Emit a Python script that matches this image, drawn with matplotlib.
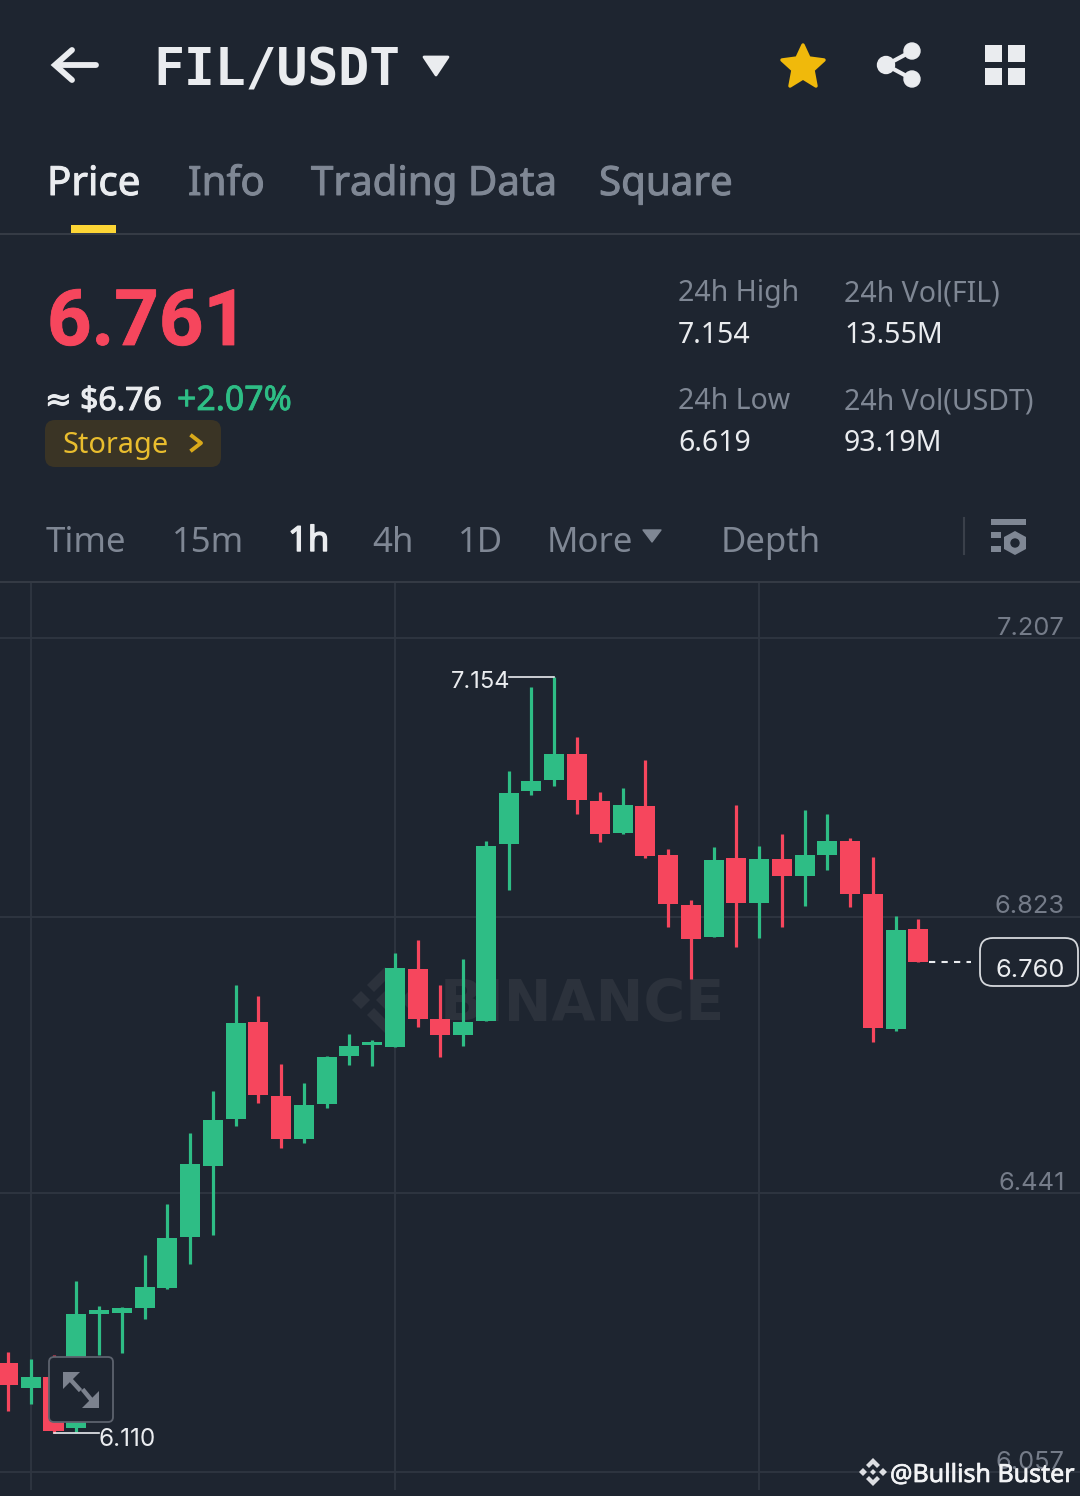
import matplotlib
matplotlib.use('Agg')
import matplotlib.pyplot as plt
import matplotlib.patheffects as pe
from matplotlib.patches import Polygon, Circle, FancyBboxPatch, Rectangle

# candles, oldest first
opens = [6.207, 6.173, 6.188, 6.118, 6.275, 6.276, 6.283, 6.311, 6.381, 6.479, 6.544,
         6.677, 6.575, 6.516, 6.564, 6.631, 6.646, 6.643, 6.751, 6.682, 6.660, 6.679,
         6.923, 6.996, 7.011, 7.047, 6.982, 6.938, 6.975, 6.908, 6.839, 6.795, 6.904,
         6.842, 6.902, 6.879, 6.908, 6.927, 6.854, 6.668, 6.806]
closes = [6.177, 6.188, 6.114, 6.275, 6.280, 6.283, 6.312, 6.380, 6.482, 6.542, 6.676,
          6.577, 6.516, 6.563, 6.629, 6.644, 6.650, 6.752, 6.682, 6.660, 6.677, 6.920,
          6.993, 7.010, 7.047, 6.984, 6.937, 6.977, 6.906, 6.840, 6.792, 6.901, 6.842,
          6.902, 6.879, 6.908, 6.927, 6.854, 6.669, 6.804, 6.760]
highs = [6.222, 6.213, 6.218, 6.320, 6.286, 6.284, 6.356, 6.427, 6.524, 6.582, 6.728,
         6.713, 6.620, 6.593, 6.631, 6.661, 6.653, 6.773, 6.791, 6.728, 6.764, 6.927,
         7.024, 7.139, 7.154, 7.070, 6.995, 7.000, 7.039, 6.916, 6.846, 6.919, 6.977,
         6.920, 6.937, 6.970, 6.964, 6.931, 6.905, 6.824, 6.820]
lows = [6.141, 6.151, 6.110, 6.112, 6.218, 6.221, 6.268, 6.309, 6.344, 6.384, 6.534,
        6.566, 6.504, 6.511, 6.559, 6.618, 6.617, 6.643, 6.671, 6.629, 6.644, 6.679,
        6.860, 6.990, 7.003, 6.964, 6.926, 6.937, 6.904, 6.808, 6.737, 6.795, 6.781,
        6.793, 6.808, 6.837, 6.887, 6.836, 6.650, 6.665, 6.760]
price_ticks = [7.207, 6.823, 6.441, 6.057]
price_labels = ['7.207', '6.823', '6.441', '6.057']
grid_candles = [1, 17, 33]

tabs = [('Price', 47), ('Info', 188), ('Trading Data', 311), ('Square', 599)]
intervals = [('Time', 46), ('15m', 172), ('1h', 288), ('4h', 372), ('1D', 458), ('More', 547), ('Depth', 721)]
stats = [('24h High', '7.154', 678, 301, 343), ('24h Vol(FIL)', '13.55M', 844, 301, 343),
         ('24h Low', '6.619', 678, 409, 451), ('24h Vol(USDT)', '93.19M', 844, 409, 451)]

BG = '#1e2530'
GRID = '#2f3641'
GREEN = '#2ebd85'
RED = '#f6465d'
GREY = '#7f8794'
WHITE = '#eaecef'
FONT = ['Noto Sans', 'DejaVu Sans']
NUM = 'Inter'

fig = plt.figure(figsize=(10.8, 14.96), dpi=100, facecolor=BG)

# page furniture drawn in pixel coordinates
ui = fig.add_axes([0, 0, 1, 1], zorder=0)
ui.set_xlim(0, 1080)
ui.set_ylim(1496, 0)
ui.axis('off')


def label(ax, x, y, s, size, color, weight='normal', ha='left', family=FONT, stroke=0):
    # y is the baseline of the text
    t = ax.text(x, y, s, fontsize=size, color=color, fontweight=weight, ha=ha, va='baseline', family=family)
    if stroke:
        t.set_path_effects([pe.withStroke(linewidth=stroke, foreground=color)])


# header
ui.plot([56, 96], [65, 65], color=WHITE, lw=4.2, solid_capstyle='round')
ui.plot([72, 55, 72], [50, 65, 80], color=WHITE, lw=4.2, solid_capstyle='round', solid_joinstyle='miter')
label(ui, 153, 85, 'FIL/USDT', 37, WHITE, 'bold', family='DejaVu Sans Mono')
ui.add_patch(Polygon([(424, 57), (448, 57), (436, 75)], closed=True, facecolor=WHITE, edgecolor=WHITE, lw=2, joinstyle='round'))

star = [(803, 45), (809, 58), (824, 60), (813, 70), (816, 86), (803, 78), (790, 86), (793, 70), (782, 60), (797, 58)]
ui.add_patch(Polygon(star, closed=True, facecolor='#f0b90b', edgecolor='#f0b90b', lw=2.5, joinstyle='round'))

ui.plot([912, 886, 912], [51, 65, 79], color=WHITE, lw=3)
ui.add_patch(Circle((886, 65), 8.5, color=WHITE))
ui.add_patch(Circle((912, 51), 8, color=WHITE))
ui.add_patch(Circle((912, 79), 8, color=WHITE))

for sx in [985, 1008]:
    for sy in [45, 68]:
        ui.add_patch(Rectangle((sx, sy), 17, 17, color=WHITE, lw=0))

# tabs
for i, (name, x) in enumerate(tabs):
    label(ui, x, 195, name, 29, WHITE if i == 0 else GREY, stroke=0.7)
ui.add_patch(Rectangle((71, 225), 45, 8, color='#fcd535', lw=0))
ui.plot([0, 1080], [234, 234], color='#3a404a', lw=1.2)

# price block
label(ui, 47, 345, '6.761', 56, RED, 'bold', family='Roboto', stroke=0.6)
label(ui, 45, 410, '≈ $6.76', 23, WHITE, stroke=0.8)
label(ui, 177, 410, '+2.07%', 24.4, GREEN, stroke=0.6)
ui.add_patch(FancyBboxPatch((51, 426), 164, 35, boxstyle='round,pad=6,rounding_size=10', facecolor='#3a3425', edgecolor='none'))
label(ui, 63, 453, 'Storage', 20.8, '#e9bd2e')
ui.plot([192, 201, 192], [436, 443, 450], color='#d9a91a', lw=2.8)

for head, val, x, y1, y2 in stats:
    label(ui, x, y1, head, 20.5, GREY)
    label(ui, x, y2, val, 20.5, WHITE)

# interval row
for name, x in intervals:
    if name == '1h':
        label(ui, x, 551, name, 25, WHITE, stroke=1)
    else:
        label(ui, x, 552, name, 25, GREY)
ui.add_patch(Polygon([(643, 530), (661, 530), (652, 542)], closed=True, color=GREY, lw=1, joinstyle='round'))
ui.plot([964, 964], [518, 554], color='#3a404a', lw=1.5)
ui.add_patch(Rectangle((991, 519), 35, 6, color=GREY, lw=0))
ui.add_patch(Rectangle((991, 532), 10, 6, color=GREY, lw=0))
ui.add_patch(Rectangle((991, 546), 10, 6, color=GREY, lw=0))
hexagon = [(1015, 531), (1026, 537), (1026, 549), (1015, 555), (1004, 549), (1004, 537)]
ui.add_patch(Polygon(hexagon, closed=True, color=GREY, lw=0))
ui.add_patch(Circle((1015, 543), 4, color=BG))
ui.plot([0, 1080], [582, 582], color='#343a44', lw=1.5)

# watermark sits behind the candles
WM = '#2c323c'
ui.add_patch(Polygon([(352, 1000), (361, 991), (370, 1000), (361, 1009)], closed=True, color=WM, lw=0))
ui.add_patch(Polygon([(376, 1000), (385, 991), (394, 1000), (385, 1009)], closed=True, color=WM, lw=0))
ui.add_patch(Polygon([(400, 1000), (409, 991), (418, 1000), (409, 1009)], closed=True, color=WM, lw=0))
ui.add_patch(Polygon([(367, 985), (385, 967), (403, 985), (396, 992), (385, 981), (374, 992)], closed=True, color=WM, lw=0))
ui.add_patch(Polygon([(367, 1015), (385, 1033), (403, 1015), (396, 1008), (385, 1019), (374, 1008)], closed=True, color=WM, lw=0))
label(ui, 440, 1021, 'BINANCE', 41, WM, 'bold', family='DejaVu Sans')

# candles, x is the candle index
ax = fig.add_axes([0, (1496 - 1490) / 1496, 1, (1490 - 583) / 1496], zorder=1)
ax.patch.set_visible(False)
ax.set_xlim(-0.351, 47.1)
ax.set_ylim(6.032, 7.283)
for s in ax.spines.values():
    s.set_visible(False)
ax.set_xticks(grid_candles)
ax.set_yticks(price_ticks)
ax.tick_params(length=0, labelbottom=False, labelleft=False)
ax.grid(True, color=GRID, lw=1.3)
ax.set_axisbelow(True)

idx = list(range(len(opens)))
colors = [GREEN if c >= o else RED for o, c in zip(opens, closes)]
ax.vlines(idx, lows, highs, colors=colors, lw=2.3, zorder=3)
ax.bar(idx, [abs(c - o) for o, c in zip(opens, closes)], bottom=[min(o, c) for o, c in zip(opens, closes)],
       width=0.88, color=colors, lw=0, zorder=3)

for tick, text in zip(price_ticks, price_labels):
    ax.annotate(text, xy=(1, tick), xycoords=('axes fraction', 'data'), xytext=(-11, 2.2),
                textcoords='offset points', ha='right', va='baseline', fontsize=18.3, color='#757c89',
                family=NUM, zorder=1)

# high and low markers
ax.plot([22, 24], [7.154, 7.154], color=WHITE, lw=1.2, zorder=4)
ax.plot([2, 4], [6.110, 6.110], color=WHITE, lw=1.2, zorder=4)

# last price marker
ax.plot([40.45, 42.3], [6.760, 6.760], color=WHITE, lw=1.5, ls=(0, (3, 3)), zorder=4)

# things on top of the candles
top = fig.add_axes([0, 0, 1, 1], zorder=2)
top.set_xlim(0, 1080)
top.set_ylim(1496, 0)
top.axis('off')

label(top, 510, 688, '7.154', 17, WHITE, ha='right', family=NUM)
label(top, 99, 1446, '6.110', 17.5, WHITE, family=NUM)

top.add_patch(FancyBboxPatch((990, 948), 78, 28, boxstyle='round,pad=10,rounding_size=13', facecolor=BG, edgecolor='#d5d8dc', lw=1.3))
label(top, 1030, 977, '6.760', 18.3, WHITE, ha='center', family=NUM)

top.add_patch(FancyBboxPatch((55, 1363), 52, 53, boxstyle='round,pad=6,rounding_size=5', facecolor=BG, edgecolor='#5d636e', lw=1.3))
ARROW = '#7c828e'
top.add_patch(Polygon([(63, 1372), (80, 1372), (63, 1389)], closed=True, color=ARROW, lw=0))
top.add_patch(Polygon([(99, 1408), (82, 1408), (99, 1391)], closed=True, color=ARROW, lw=0))
top.plot([69, 79], [1378, 1389], color=ARROW, lw=3.2)
top.plot([84, 93], [1391, 1402], color=ARROW, lw=3.2)

# bottom right credit
CREDIT = '#dcdee2'
for cx in [863, 883]:
    top.add_patch(Polygon([(cx - 4, 1472), (cx, 1468), (cx + 4, 1472), (cx, 1476)], closed=True, color=CREDIT, lw=0))
top.add_patch(Polygon([(866, 1465), (873, 1458), (880, 1465), (877, 1468), (873, 1464), (869, 1468)], closed=True, color=CREDIT, lw=0))
top.add_patch(Polygon([(866, 1479), (873, 1486), (880, 1479), (877, 1476), (873, 1480), (869, 1476)], closed=True, color=CREDIT, lw=0))
top.add_patch(Polygon([(873, 1469), (876, 1472), (873, 1475), (870, 1472)], closed=True, color=CREDIT, lw=0))
label(top, 890, 1482, '@Bullish Buster', 18, '#f2f3f5', stroke=0.5)

fig.savefig('out.png', dpi=100, facecolor=BG)
plt.close()
